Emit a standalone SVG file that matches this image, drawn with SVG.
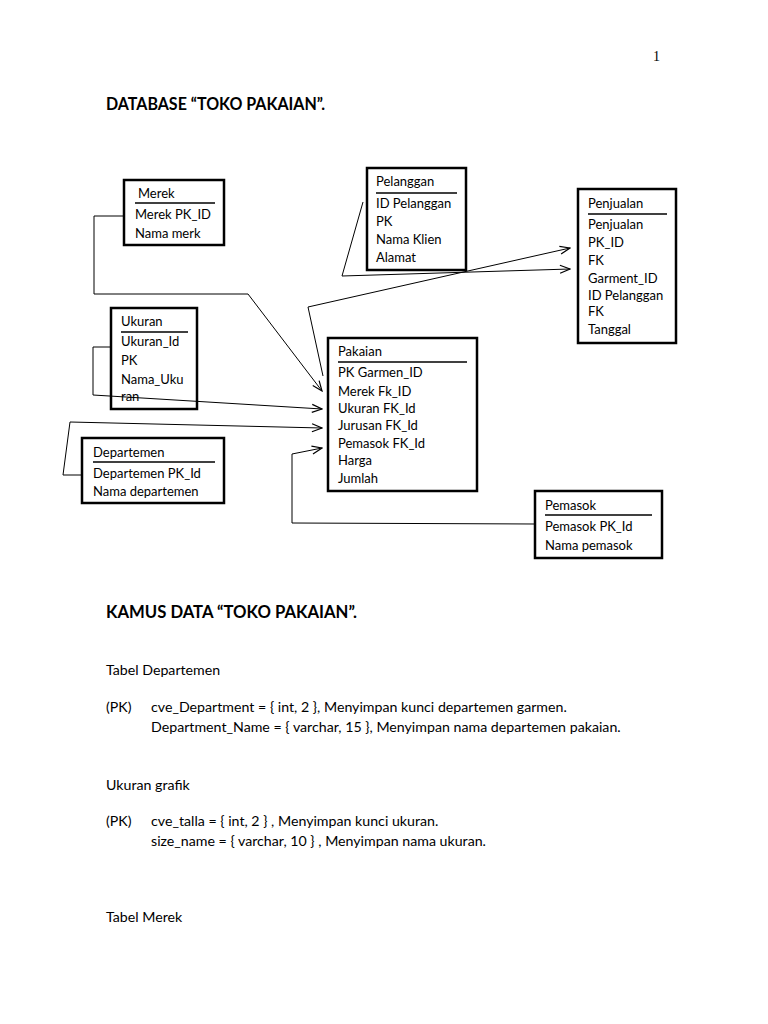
<svg xmlns="http://www.w3.org/2000/svg" width="768" height="1024" viewBox="0 0 768 1024">
<style>
.box{fill:#fff;stroke:#000;stroke-width:2.5}
.ul{stroke:#000;stroke-width:1.6}
.t{font-family:Lato,"Liberation Sans",sans-serif;font-size:13px;fill:#000}
.b{font-family:Lato,"Liberation Sans",sans-serif;font-size:14.2px;fill:#000}
.h{font-family:Lato,"Liberation Sans",sans-serif;font-size:16.5px;font-weight:bold;fill:#000}
.c{fill:none;stroke:#000;stroke-width:1}
</style>
<defs>
<marker id="arr" markerUnits="userSpaceOnUse" markerWidth="12" markerHeight="10" refX="11" refY="5" orient="auto">
<path d="M1,1 L11,5 L1,9" fill="none" stroke="#000" stroke-width="1.2"/>
</marker>
</defs>
<rect width="768" height="1024" fill="#fff"/>
<text x="653" y="61" font-family="Liberation Serif,serif" font-size="14">1</text>
<text class="h" x="106" y="110" textLength="219" lengthAdjust="spacingAndGlyphs">DATABASE “TOKO PAKAIAN”.</text>

<g id="merek">
<rect class="box" x="124" y="180" width="100" height="65"/>
<line class="ul" x1="135" y1="203" x2="215" y2="203"/>
<text class="t" x="138" y="198">Merek</text>
<text class="t" x="135" y="219">Merek PK_ID</text>
<text class="t" x="135" y="238">Nama merk</text>
</g>
<g id="pelanggan">
<rect class="box" x="367" y="168" width="99" height="102"/>
<line class="ul" x1="376" y1="193" x2="457" y2="193"/>
<text class="t" x="376" y="186">Pelanggan</text>
<text class="t" x="376" y="208">ID Pelanggan</text>
<text class="t" x="376" y="226">PK</text>
<text class="t" x="376" y="244">Nama Klien</text>
<text class="t" x="376" y="262">Alamat</text>
</g>
<g id="penjualan">
<rect class="box" x="578" y="189" width="98" height="154"/>
<line class="ul" x1="588" y1="214" x2="667" y2="214"/>
<text class="t" x="588" y="208">Penjualan</text>
<text class="t" x="588" y="229">Penjualan</text>
<text class="t" x="588" y="247">PK_ID</text>
<text class="t" x="588" y="265">FK</text>
<text class="t" x="588" y="283">Garment_ID</text>
<text class="t" x="588" y="300">ID Pelanggan</text>
<text class="t" x="588" y="316">FK</text>
<text class="t" x="588" y="334">Tanggal</text>
</g>
<g id="ukuran">
<rect class="box" x="111" y="308" width="86" height="101"/>
<line class="ul" x1="121" y1="332" x2="188" y2="332"/>
<text class="t" x="121" y="326">Ukuran</text>
<text class="t" x="121" y="346">Ukuran_Id</text>
<text class="t" x="121" y="365">PK</text>
<text class="t" x="121" y="384">Nama_Uku</text>
<text class="t" x="121" y="401">ran</text>
</g>
<g id="pakaian">
<rect class="box" x="328" y="338" width="149" height="153"/>
<line class="ul" x1="338" y1="362" x2="467" y2="362"/>
<text class="t" x="338" y="356">Pakaian</text>
<text class="t" x="338" y="377">PK Garmen_ID</text>
<text class="t" x="338" y="396">Merek Fk_ID</text>
<text class="t" x="338" y="413">Ukuran FK_Id</text>
<text class="t" x="338" y="430">Jurusan FK_Id</text>
<text class="t" x="338" y="448">Pemasok FK_Id</text>
<text class="t" x="338" y="465">Harga</text>
<text class="t" x="338" y="483">Jumlah</text>
</g>
<g id="departemen">
<rect class="box" x="82" y="438" width="142" height="65"/>
<line class="ul" x1="93" y1="462" x2="215" y2="462"/>
<text class="t" x="93" y="457">Departemen</text>
<text class="t" x="93" y="478">Departemen PK_Id</text>
<text class="t" x="93" y="496">Nama departemen</text>
</g>
<g id="pemasok">
<rect class="box" x="535" y="491" width="127" height="67"/>
<line class="ul" x1="545" y1="515" x2="652" y2="515"/>
<text class="t" x="545" y="510">Pemasok</text>
<text class="t" x="545" y="531">Pemasok PK_Id</text>
<text class="t" x="545" y="550">Nama pemasok</text>
</g>

<g id="connectors">
<polyline class="c" points="124,216 94,216 94,294 248,294 322,391" marker-end="url(#arr)"/>
<polyline class="c" points="111,347 93,347 93,395 322,409" marker-end="url(#arr)"/>
<polyline class="c" points="82,475 63,475 70,422 322,428" marker-end="url(#arr)"/>
<polyline class="c" points="535,524 292,523 292,454 322,448" marker-end="url(#arr)"/>
<polyline class="c" points="323,376 308,307 570,248" marker-end="url(#arr)"/>
<polyline class="c" points="363,202 342,276 570,269" marker-end="url(#arr)"/>
</g>

<text class="h" x="106" y="618" textLength="251" lengthAdjust="spacingAndGlyphs">KAMUS DATA “TOKO PAKAIAN”.</text>
<text class="b" x="106" y="675">Tabel Departemen</text>
<text class="b" x="106" y="712">(PK)</text>
<text class="b" x="151" y="712">cve_Department = { int, 2 }, Menyimpan kunci departemen garmen.</text>
<text class="b" x="151" y="732">Department_Name = { varchar, 15 }, Menyimpan nama departemen pakaian.</text>
<text class="b" x="106" y="790">Ukuran grafik</text>
<text class="b" x="106" y="826">(PK)</text>
<text class="b" x="151" y="826">cve_talla = { int, 2 } , Menyimpan kunci ukuran.</text>
<text class="b" x="151" y="846">size_name = { varchar, 10 } , Menyimpan nama ukuran.</text>
<text class="b" x="106" y="922">Tabel Merek</text>
</svg>
